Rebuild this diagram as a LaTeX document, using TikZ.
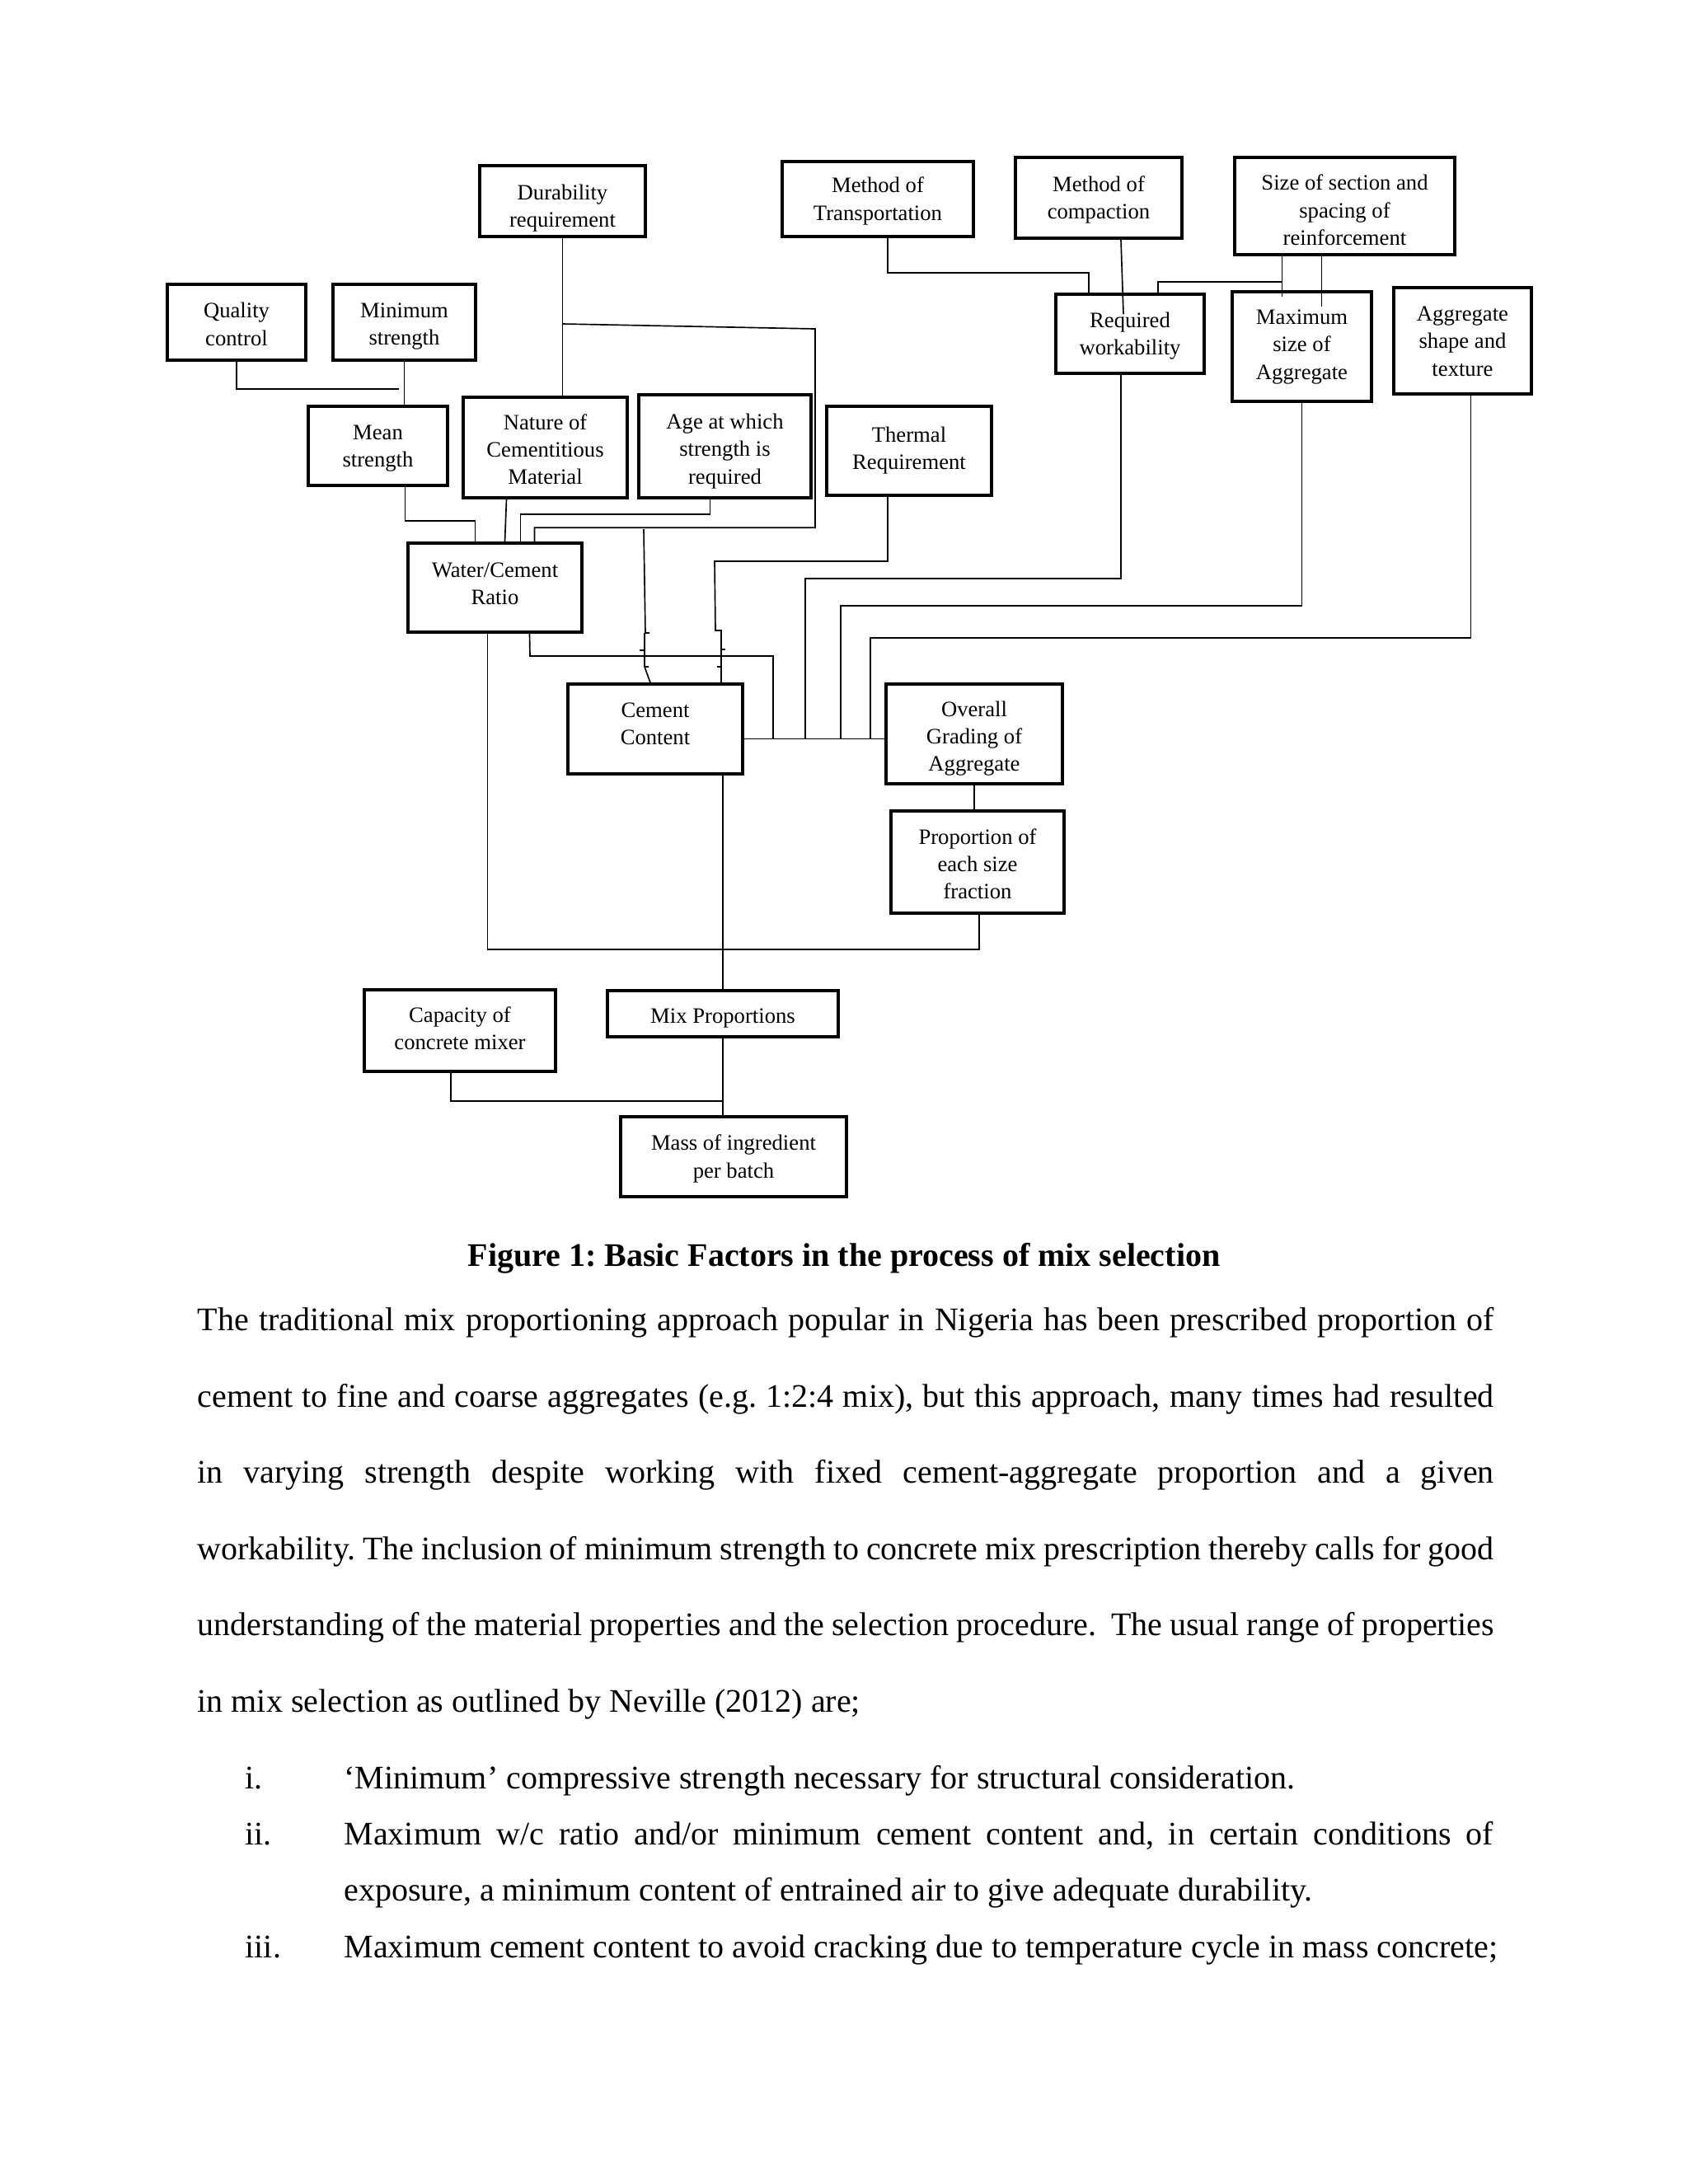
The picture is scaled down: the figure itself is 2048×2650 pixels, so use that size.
\documentclass[tikz,border=0pt]{standalone}
\usepackage{fontspec}
\setmainfont{Liberation Serif}
\usetikzlibrary{calc}
\frenchspacing

% extra depth under the last line lifts the text in a box,
% extra height on the first line drops it
\newcommand{\lowpad}[1]{\rule[-#1]{0pt}{0pt}}
\newcommand{\toppad}[1]{\rule{0pt}{#1}}

\begin{document}
\begin{tikzpicture}[x=0.3pt, y=-0.3pt,
  every node/.style={font=\fontsize{8}{10}\selectfont},
  box/.style={draw, line width=1.1pt, inner sep=1pt, align=center},
  link/.style={line width=0.5pt},
  body/.style={anchor=base west, inner sep=0pt, font=\fontsize{12}{14}\selectfont}]
  \useasboundingbox (0,0) rectangle (2048,2650);
  \fill[white] (0,0) rectangle (2048,2650);

  % factors
  \node[box, minimum width=50.4pt, minimum height=27.6pt] (A) at (287,391) {\toppad{7pt}Quality\\control};
  \node[box, minimum width=51.9pt, minimum height=27.6pt] (B) at (490.5,391) {\toppad{8.5pt}Minimum\\strength};
  \node[box, minimum width=60.3pt, minimum height=25.8pt] (C) at (682.5,244) {\toppad{10.5pt}Durability\\requirement};
  \node[box, minimum width=69.6pt, minimum height=27.3pt] (D) at (1065,241.5) {\toppad{7pt}Method of\\Transportation};
  \node[box, minimum width=60.6pt, minimum height=29.4pt] (E) at (1333,240) {\toppad{7pt}Method of\\compaction};
  \node[box, minimum width=80.1pt, minimum height=35.4pt] (F) at (1631.5,250) {\toppad{8.5pt}Size of section and\\spacing of\\reinforcement};
  \node[box, minimum width=54pt, minimum height=28.8pt] (G) at (1371,405) {\toppad{7pt}Required\\workability};
  \node[box, minimum width=50.7pt, minimum height=39.9pt] (H) at (1579.5,420.5) {\toppad{7pt}Maximum\\size of\\Aggregate\lowpad{3.3pt}};
  \node[box, minimum width=50.1pt, minimum height=38.7pt] (I) at (1774.5,413.5) {\toppad{7pt}Aggregate\\shape and\\texture\lowpad{1.5pt}};
  \node[box, minimum width=50.7pt, minimum height=28.8pt] (J) at (458.5,541) {\toppad{7pt}Mean\\strength};
  \node[box, minimum width=59.7pt, minimum height=36.6pt] (K) at (661.5,543) {\toppad{7pt}Nature of\\Cementitious\\Material};
  \node[box, minimum width=62.7pt, minimum height=37.5pt] (L) at (879.5,541.5) {\toppad{9pt}Age at which\\strength is\\required};
  \node[box, minimum width=60pt, minimum height=32.4pt] (M) at (1103,547) {\toppad{7pt}Thermal\\Requirement\lowpad{3.5pt}};
  \node[box, minimum width=63.3pt, minimum height=32.4pt] (N) at (600.5,713) {\toppad{7pt}Water/Cement\\Ratio\lowpad{4.5pt}};
  \node[box, minimum width=63.6pt, minimum height=32.7pt] (O) at (795,884.5) {\toppad{7pt}Cement\\Content\lowpad{5.5pt}};
  \node[box, minimum width=64.2pt, minimum height=36.3pt] (P) at (1182,890.5) {\toppad{9pt}Overall\\Grading of\\Aggregate};
  \node[box, minimum width=63pt, minimum height=37.2pt] (Q) at (1186,1046) {\toppad{7pt}Proportion of\\each size\\fraction};
  \node[box, minimum width=69.6pt, minimum height=29.7pt] (R) at (558,1250.5) {\toppad{7pt}Capacity of\\concrete mixer\lowpad{3pt}};
  \node[box, minimum width=84pt, minimum height=16.8pt] (S) at (877,1230) {\toppad{8.5pt}Mix Proportions};
  \node[box, minimum width=82.2pt, minimum height=29.1pt] (T) at (890,1403.5) {\toppad{7pt}Mass of ingredient\\per batch};

  % junctions
  \coordinate (qe) at (484,472);
  \coordinate (dj) at (781,642);
  \coordinate (nb) at (643,796);
  \coordinate (bw) at (938,896);
  \coordinate (bg) at (977,896);
  \coordinate (bh) at (1020,896);
  \coordinate (bi) at (1056,896);

  % strength
  \draw[link] (A.south) |- (qe);
  \draw[link] (B.south) -- (B.south |- J.north);
  \draw[link] ($(J.south)+(33,0)$) |- ($(N.north)+(-24,-25)$) -- ($(N.north)+(-24,0)$);
  \draw[link] ($(K.south)+(-47,0)$) -- ($(N.north)+(12,0)$);
  \draw[link] ($(L.south)+(-18,0)$) |- ($(N.north)+(31,-33)$) -- ($(N.north)+(31,0)$);

  % durability
  \draw[link] (C.south) -- (C.south |- K.north);
  \draw[link] (C.south |- 0,393) -- (989,399) |- ($(N.north)+(48,-17)$) -- ($(N.north)+(48,0)$);
  \draw[link] (dj) -- (783,768) -- ++(5,0);
  \draw[link] (782,768) -- (782,809) -- ($(O.north)+(-6,0)$);
  \draw[link] (776,789) -- (782,789) (782,809) -- (787,809);

  % thermal
  \draw[link] ($(M.south)+(-26,0)$) |- (867,681) -- (868,765) -- (875,765) -- ($(O.north)+(80,0)$);
  \draw[link] (875,788) -- (880,788) (870,809) -- (875,809);

  % workability
  \draw[link] ($(D.south)+(12,0)$) |- ($(G.north)+(-50,-24)$) -- ($(G.north)+(-50,0)$);
  \draw[link] ($(E.south)+(27,0)$) -- ($(G.north)+(-8,26)$);
  \draw[link] ($(F.south)+(-76,0)$) -- ($(H.north)+(-24,8)$);
  \draw[link] ($(F.south)+(-28,0)$) -- ($(H.north)+(24,20)$);
  \draw[link] ($(F.south)+(-76,31)$) -| ($(G.north)+(34,0)$);

  % into the cement content / grading line
  \draw[link] ($(O.east)+(0,12)$) -- ($(P.west)+(0,6)$);
  \draw[link] ($(N.south)+(42,0)$) -- (nb) -| (bw);
  \draw[link] ($(G.south)+(-11,0)$) |- (bg |- 0,702) -- (bg);
  \draw[link] (H.south) |- (bh |- 0,735) -- (bh);
  \draw[link] ($(I.south)+(10,0)$) |- (bi |- 0,774) -- (bi);
  \draw[link] (P.south) -- (P.south |- Q.north);

  % mix proportions
  \draw[link] ($(Q.south)+(2,0)$) |- ($(N.south)+(-9,383)$) -- ($(N.south)+(-9,0)$);
  \draw[link] ($(O.south)+(82,0)$) -- (S.north);
  \draw[link] (S.south) -- (S.south |- T.north);
  \draw[link] ($(R.south)+(-11,0)$) |- (S.south |- 0,1336);

  % caption and text
  \node[anchor=base, inner sep=0pt, font=\fontsize{12}{14}\selectfont\bfseries] (cap) at (1024,1536)
    {Figure 1: Basic Factors in the process of mix selection};
  \node[body] (p1) at (239,1614) {\makebox[471.9pt][s]{The traditional mix proportioning approach popular in Nigeria has been prescribed proportion of}};
  \node[body] (p2) at (239,1707) {\makebox[471.9pt][s]{cement to fine and coarse aggregates (e.g. 1:2:4 mix), but this approach, many times had resulted}};
  \node[body] (p3) at (239,1799) {\makebox[471.9pt][s]{in varying strength despite working with fixed cement-aggregate proportion and a given}};
  \node[body] (p4) at (239,1892) {\makebox[471.9pt][s]{workability. The inclusion of minimum strength to concrete mix prescription thereby calls for good}};
  \node[body] (p5) at (239,1984) {\makebox[471.9pt][s]{understanding of the material properties and the selection procedure.\ \ The usual range of properties}};
  \node[body] (p6) at (239,2077) {in mix selection as outlined by Neville (2012) are;};

  \node[body] (n1) at (297,2170) {i.};
  \node[body] (t1) at (417,2170) {‘Minimum’ compressive strength necessary for structural consideration.};
  \node[body] (n2) at (297,2238) {ii.};
  \node[body] (t2) at (417,2238) {\makebox[418.2pt][s]{Maximum w/c ratio and/or minimum cement content and, in certain conditions of}};
  \node[body] (t3) at (417,2306) {exposure, a minimum content of entrained air to give adequate durability.};
  \node[body] (n3) at (297,2375) {iii.};
  \node[body] (t4) at (417,2375) {Maximum cement content to avoid cracking due to temperature cycle in mass concrete;};
\end{tikzpicture}
\end{document}
